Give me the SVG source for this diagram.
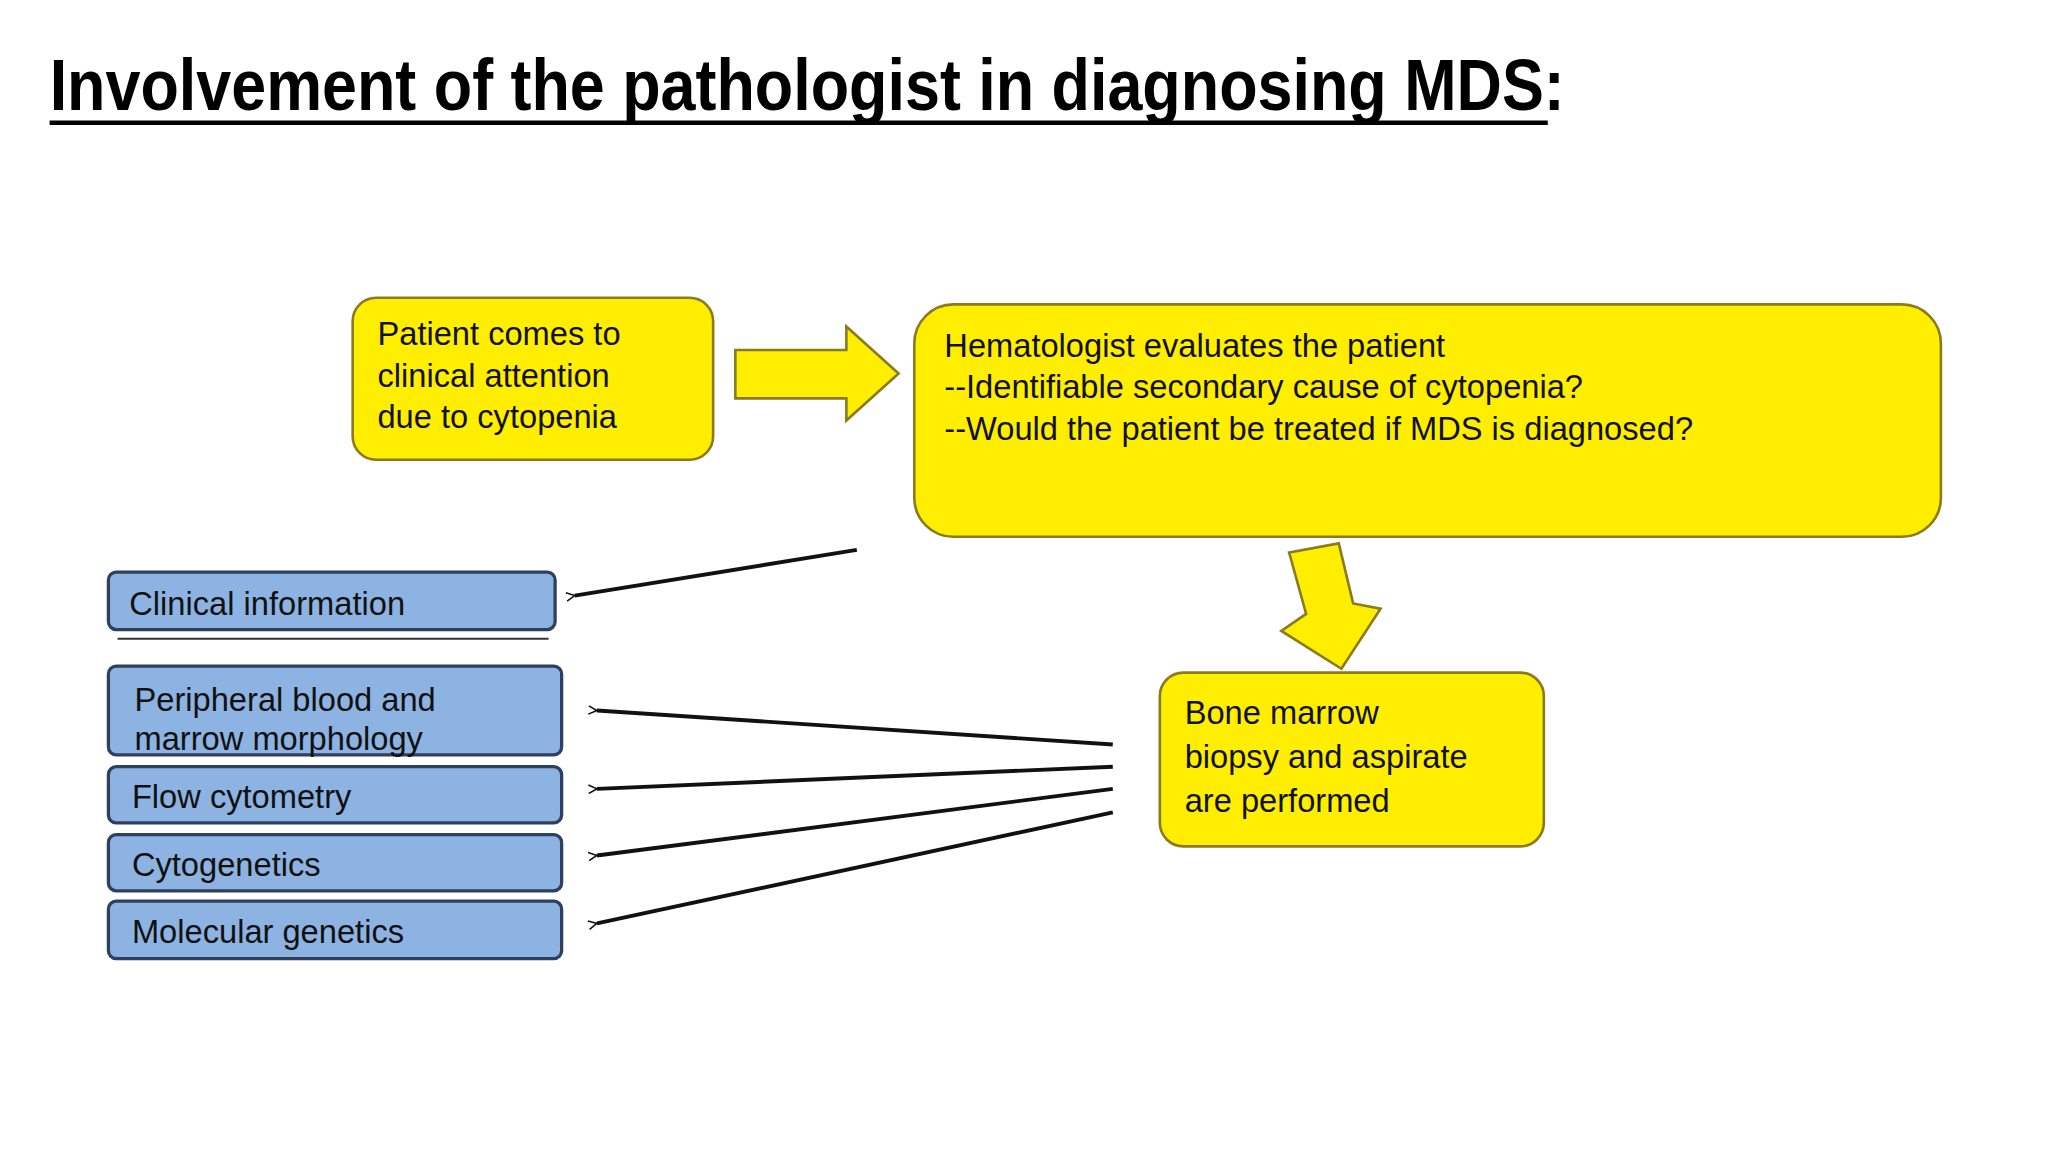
<svg xmlns="http://www.w3.org/2000/svg" width="2048" height="1152" viewBox="0 0 2048 1152">
<defs>
<style>
.y{fill:#ffee00;stroke:#8a7a20;stroke-width:2}
.b{fill:#8db3e2;stroke:#2f3f5f;stroke-width:2.5}
.t{font-family:"Liberation Sans",Arial,sans-serif;font-size:25px;fill:#111}
.c{stroke:#111;stroke-width:3;fill:none;marker-end:url(#ah)}
</style>
<marker id="ah" viewBox="0 0 20 20" refX="2" refY="10" markerWidth="8" markerHeight="8" orient="auto-start-reverse" markerUnits="userSpaceOnUse">
<path d="M18,2 L2,10 L18,18" fill="none" stroke="#111" stroke-width="3"/>
</marker>
</defs>
<rect width="2048" height="1152" fill="#fff"/>
<g transform="scale(1.30612)">
<g id="title">
<text x="38" y="84" font-family="Liberation Sans, Arial, sans-serif" font-weight="bold" font-size="56" textLength="1160" lengthAdjust="spacingAndGlyphs" fill="#000">Involvement of the pathologist in diagnosing MDS:</text>
<line x1="38" y1="94" x2="1185" y2="94" stroke="#000" stroke-width="3.5"/>
</g>
<g id="n1"><rect class="y" x="270" y="228" width="276" height="124" rx="18"/>
<text class="t" x="289" y="264">Patient comes to</text><text class="t" x="289" y="296">clinical attention</text><text class="t" x="289" y="328">due to cytopenia</text></g>
<g id="n2"><rect class="y" x="700" y="233" width="786" height="178" rx="30"/>
<text class="t" x="723" y="273">Hematologist evaluates the patient</text><text class="t" x="723" y="305">--Identifiable secondary cause of cytopenia?</text><text class="t" x="723" y="337">--Would the patient be treated if MDS is diagnosed?</text></g>
<g id="n3"><rect class="y" x="888" y="515" width="294" height="133" rx="18"/>
<text class="t" x="907" y="554">Bone marrow</text><text class="t" x="907" y="588">biopsy and aspirate</text><text class="t" x="907" y="622">are performed</text></g>
<g id="n4"><rect class="b" x="83" y="438" width="342" height="44" rx="6"/><text class="t" x="99" y="471">Clinical information</text></g>
<g id="n5"><rect class="b" x="83" y="510" width="347" height="68" rx="6"/><text class="t" x="103" y="544">Peripheral blood and</text><text class="t" x="103" y="574">marrow morphology</text></g>
<g id="n6"><rect class="b" x="83" y="587" width="347" height="43" rx="6"/><text class="t" x="101" y="619">Flow cytometry</text></g>
<g id="n7"><rect class="b" x="83" y="639" width="347" height="43" rx="6"/><text class="t" x="101" y="671">Cytogenetics</text></g>
<g id="n8"><rect class="b" x="83" y="690" width="347" height="44" rx="6"/><text class="t" x="101" y="722">Molecular genetics</text></g>
<g id="connectors">
<polygon class="y" points="563,268 648,268 648,250 688,286 648,322 648,305 563,305"/>
<polygon class="y" points="987,423 1025,416 1036,462 1057,466 1027,512 981,483 1000,470"/>
<line x1="90" y1="489" x2="420" y2="489" stroke="#333" stroke-width="1.5"/>
<line class="c" x1="656" y1="421" x2="440" y2="456"/>
<line class="c" x1="852" y1="570" x2="457" y2="544"/>
<line class="c" x1="852" y1="587" x2="457" y2="604"/>
<line class="c" x1="852" y1="604" x2="457" y2="655"/>
<line class="c" x1="852" y1="622" x2="457" y2="707"/>
</g>
</g>
</svg>
